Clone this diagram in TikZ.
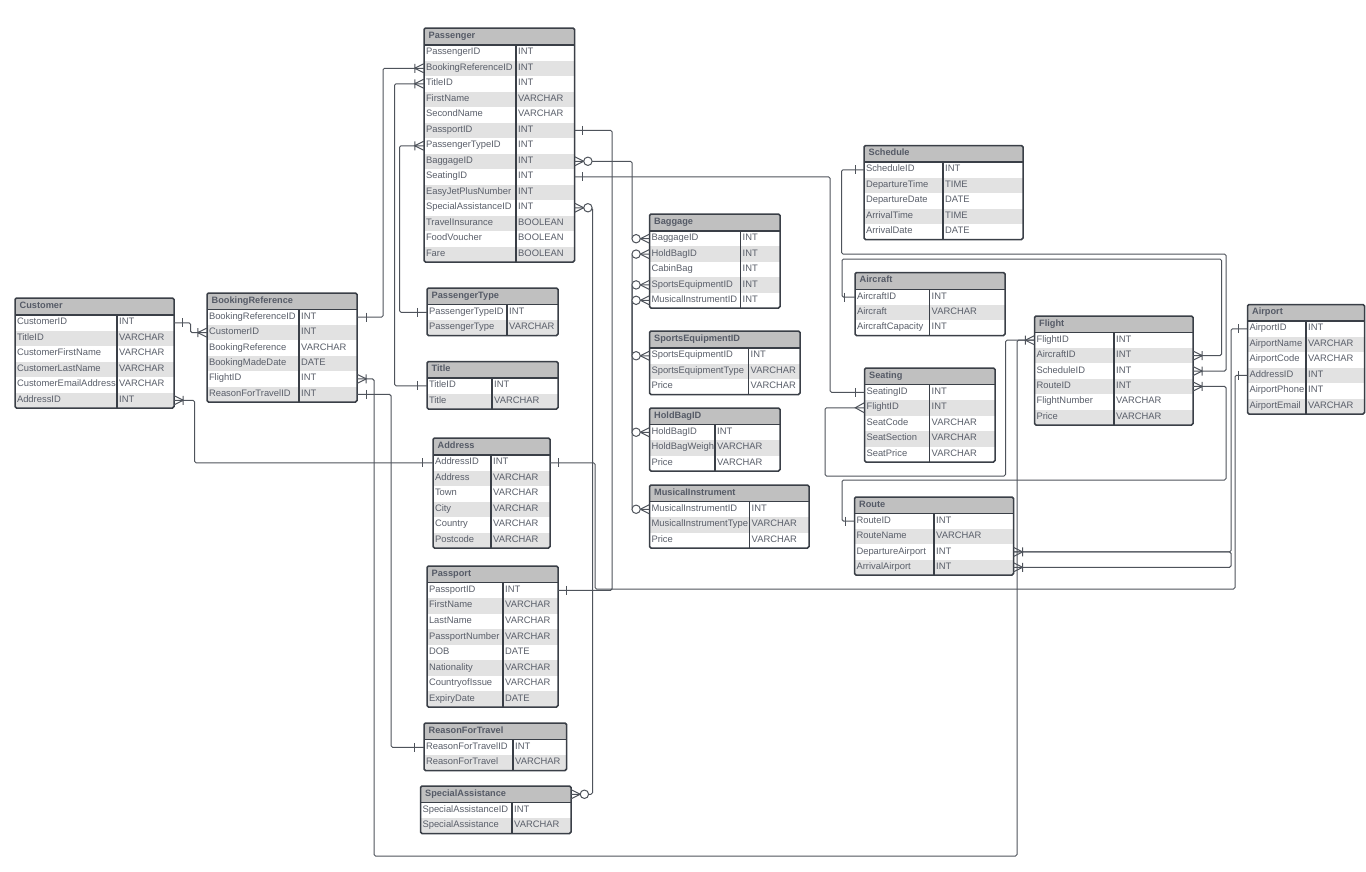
\documentclass[tikz,border=0pt]{standalone}
\usepackage{fontspec}
\setmainfont{Liberation Sans}
\definecolor{edgec}{HTML}{3A3F47}
\definecolor{linec}{HTML}{4E535B}
\definecolor{headc}{HTML}{C0C0C0}
\definecolor{altc}{HTML}{E2E2E2}
\definecolor{textc}{HTML}{5A5F6A}
\definecolor{titlec}{HTML}{555A66}
\tikzset{
  x=1pt,y=-1pt,
  frameline/.style={draw=edgec,line width=1.5pt},
  conn/.style={draw=linec,line width=1pt,rounded corners=1.5pt},
  markline/.style={draw=linec,line width=1pt},
  cellfield/.style={anchor=west,inner sep=0pt,text=textc,font=\fontsize{9.4}{10}\selectfont,text height=7pt,text depth=2pt},
  celltitle/.style={anchor=west,inner sep=0pt,text=titlec,font=\bfseries\fontsize{9.2}{10}\selectfont,text height=7pt,text depth=2pt},
}
% name, title, left, right, split, top, header bottom, bottom, rows
\newcommand{\ertable}[9]{%
  \foreach \xx [count=\cc] in {#9} {\xdef\nrows{\cc}}
  \pgfmathsetmacro{\rowh}{(#8-#7)/\nrows}
  \pgfmathsetmacro{\tmid}{(#3+#4)/2}
  \pgfmathsetmacro{\twid}{#4-#3}
  \pgfmathsetmacro{\hmid}{(#6+#7)/2}
  \pgfmathsetmacro{\hhei}{#7-#6}
  \node[fill=headc,inner sep=0pt,minimum width=\twid pt,minimum height=\hhei pt] (#1-head) at (\tmid,\hmid) {};
  \node[celltitle] (#1-title) at (#3+4.5,\hmid-0.7) {#2};
  \foreach \f/\t [count=\i] in {#9} {
    \pgfmathsetmacro{\ry}{#7+(\i-0.5)*\rowh}
    \pgfmathtruncatemacro{\isodd}{mod(\i,2)}
    \ifnum\isodd=1\def\rowfill{white}\else\def\rowfill{altc}\fi
    \node[fill=\rowfill,inner sep=0pt,minimum width=\twid pt,minimum height=\rowh pt] (#1-\i) at (\tmid,\ry) {};
    \node[cellfield] (#1-\i-f) at (#3+1.8,\ry-0.4) {\f};
    \node[cellfield] (#1-\i-t) at (#5+2,\ry-0.4) {\t};
  }
  \draw[frameline] (#3,#7) -- (#4,#7);
  \draw[frameline] (#5,#7) -- (#5,#8);
  \draw[frameline,rounded corners=1.5pt] (#3,#6) rectangle (#4,#8);
}
% markers: anchor, direction (1 = to the right, -1 = to the left)
\newcommand{\markone}[3][8]{\begin{scope}[shift={(#2)},xscale=#3]\draw[markline] (#1,-4.5) -- (#1,4.5);\end{scope}}
\newcommand{\markcrow}[2]{\begin{scope}[shift={(#1)},xscale=#2]\draw[markline] (0,-5) -- (9,0) -- (0,5);\end{scope}}
\newcommand{\markcrowbar}[2]{\begin{scope}[shift={(#1)},xscale=#2]\draw[markline] (0,-4.5) -- (9,0) -- (0,4.5) (9,-4.5) -- (9,4.5);\end{scope}}
\newcommand{\markzero}[2]{\begin{scope}[shift={(#1)},xscale=#2]\draw[markline] (0,-4.5) -- (9,0) -- (0,4.5);\draw[markline,fill=white] (13.2,0) circle (4.2);\end{scope}}
% connectors
\newcommand{\hvh}[3]{\coordinate (lane) at (#2,0);\draw[conn] (#1) -- (#1 -| lane) -- (#3 -| lane) -- (#3);}
\newcommand{\fivelane}[5]{\coordinate (lanea) at (#2,#3);\coordinate (laneb) at (#4,#3);\draw[conn] (#1) -- (#1 -| lanea) -- (lanea) -- (laneb) -- (#5 -| laneb) -- (#5);}
\begin{document}
\begin{tikzpicture}
\useasboundingbox (0,0) rectangle (1366,871);

\ertable{Customer}{Customer}{15}{174}{117}{298}{315}{408}{CustomerID/INT,TitleID/VARCHAR,CustomerFirstName/VARCHAR,CustomerLastName/VARCHAR,CustomerEmailAddress/VARCHAR,AddressID/INT}
\ertable{BookingReference}{BookingReference}{207}{357}{299}{293}{309.5}{402}{BookingReferenceID/INT,CustomerID/INT,BookingReference/VARCHAR,BookingMadeDate/DATE,FlightID/INT,ReasonForTravelID/INT}
\ertable{Passenger}{Passenger}{424}{574.5}{516}{28}{45}{262}{PassengerID/INT,BookingReferenceID/INT,TitleID/INT,FirstName/VARCHAR,SecondName/VARCHAR,PassportID/INT,PassengerTypeID/INT,BaggageID/INT,SeatingID/INT,EasyJetPlusNumber/INT,SpecialAssistanceID/INT,TravelInsurance/BOOLEAN,FoodVoucher/BOOLEAN,Fare/BOOLEAN}
\ertable{PassengerType}{PassengerType}{427}{558}{507}{288}{304.5}{335.5}{PassengerTypeID/INT,PassengerType/VARCHAR}
\ertable{Title}{Title}{427}{558}{492}{361.5}{378}{409}{TitleID/INT,Title/VARCHAR}
\ertable{Address}{Address}{433}{550}{491}{438}{455}{548}{AddressID/INT,Address/VARCHAR,Town/VARCHAR,City/VARCHAR,Country/VARCHAR,Postcode/VARCHAR}
\ertable{Passport}{Passport}{427}{558}{503}{566}{582.5}{707}{PassportID/INT,FirstName/VARCHAR,LastName/VARCHAR,PassportNumber/VARCHAR,DOB/DATE,Nationality/VARCHAR,CountryofIssue/VARCHAR,ExpiryDate/DATE}
\ertable{ReasonForTravel}{ReasonForTravel}{424}{566.5}{513}{723}{739.5}{770.5}{ReasonForTravelID/INT,ReasonForTravel/VARCHAR}
\ertable{SpecialAssistance}{SpecialAssistance}{420.5}{571}{512}{786}{802.5}{833.5}{SpecialAssistanceID/INT,SpecialAssistance/VARCHAR}
\ertable{Baggage}{Baggage}{649.5}{780}{740.5}{214}{231}{308}{BaggageID/INT,HoldBagID/INT,CabinBag/INT,SportsEquipmentID/INT,MusicalInstrumentID/INT}
\ertable{SportsEquipmentID}{SportsEquipmentID}{649.5}{800}{748.5}{331}{348}{394.5}{SportsEquipmentID/INT,SportsEquipmentType/VARCHAR,Price/VARCHAR}
\ertable{HoldBagID}{HoldBagID}{649.5}{780}{715}{408}{424.5}{471}{HoldBagID/INT,HoldBagWeigh/VARCHAR,Price/VARCHAR}
\ertable{MusicalInstrument}{MusicalInstrument}{649.5}{809}{749.5}{485}{501.5}{548}{MusicalInstrumentID/INT,MusicalInstrumentType/VARCHAR,Price/VARCHAR}
\ertable{Schedule}{Schedule}{864}{1023}{943}{145.5}{162}{239.5}{ScheduleID/INT,DepartureTime/TIME,DepartureDate/DATE,ArrivalTime/TIME,ArrivalDate/DATE}
\ertable{Aircraft}{Aircraft}{855}{1005}{929.5}{272.5}{289.5}{335.5}{AircraftID/INT,Aircraft/VARCHAR,AircraftCapacity/INT}
\ertable{Seating}{Seating}{864.5}{995}{929.5}{368}{384.5}{462}{SeatingID/INT,FlightID/INT,SeatCode/VARCHAR,SeatSection/VARCHAR,SeatPrice/VARCHAR}
\ertable{Route}{Route}{854.5}{1013.5}{934}{497}{513.5}{575}{RouteID/INT,RouteName/VARCHAR,DepartureAirport/INT,ArrivalAirport/INT}
\ertable{Flight}{Flight}{1034.5}{1193}{1114}{316}{332.5}{425}{FlightID/INT,AircraftID/INT,ScheduleID/INT,RouteID/INT,FlightNumber/VARCHAR,Price/VARCHAR}
\ertable{Airport}{Airport}{1247.5}{1364.5}{1306}{304.5}{321}{414}{AirportID/INT,AirportName/VARCHAR,AirportCode/VARCHAR,AddressID/INT,AirportPhone/INT,AirportEmail/VARCHAR}

% connectors
\hvh{Customer-1.east}{190.5}{BookingReference-2.west}
\markone{Customer-1.east}{1}
\markcrowbar{BookingReference-2.west}{-1}

\hvh{Customer-6.east}{194.5}{Address-1.west}
\markcrowbar{Customer-6.east}{1}
\markone[10]{Address-1.west}{-1}

\hvh{BookingReference-1.east}{383}{Passenger-2.west}
\markone[9]{BookingReference-1.east}{1}
\markcrowbar{Passenger-2.west}{-1}

\fivelane{BookingReference-5.east}{374}{856}{1017}{Flight-1.west}
\markcrowbar{BookingReference-5.east}{1}
\markcrowbar{Flight-1.west}{-1}

\hvh{BookingReference-6.east}{391}{ReasonForTravel-1.west}
\markone[9]{BookingReference-6.east}{1}
\markone[9]{ReasonForTravel-1.west}{-1}

\hvh{Title-1.west}{394.5}{Passenger-3.west}
\markone[9]{Title-1.west}{-1}
\markcrowbar{Passenger-3.west}{-1}

\hvh{PassengerType-1.west}{399.5}{Passenger-7.west}
\markone[9]{PassengerType-1.west}{-1}
\markcrowbar{Passenger-7.west}{-1}

\hvh{Passenger-6.east}{612}{Passport-1.east}
\markone[8]{Passenger-6.east}{1}
\markone[8]{Passport-1.east}{1}

\hvh{Passenger-8.east}{632}{Baggage-1.west}
\markzero{Passenger-8.east}{1}
\markzero{Baggage-1.west}{-1}

\hvh{Passenger-11.east}{592.5}{SpecialAssistance-head.east}
\markzero{Passenger-11.east}{1}
\markzero{SpecialAssistance-head.east}{1}

\hvh{Passenger-9.east}{830}{Seating-1.west}
\markone[8]{Passenger-9.east}{1}
\markone[9]{Seating-1.west}{-1}

\hvh{Baggage-2.west}{632}{HoldBagID-1.west}
\hvh{Baggage-4.west}{632}{SportsEquipmentID-1.west}
\hvh{Baggage-5.west}{632}{MusicalInstrument-1.west}
\markzero{Baggage-2.west}{-1}
\markzero{Baggage-4.west}{-1}
\markzero{Baggage-5.west}{-1}
\markzero{HoldBagID-1.west}{-1}
\markzero{SportsEquipmentID-1.west}{-1}
\markzero{MusicalInstrument-1.west}{-1}

\fivelane{Address-1.east}{595}{589}{1235}{Airport-4.west}
\markone[8]{Address-1.east}{1}
\markone[9]{Airport-4.west}{-1}

\fivelane{Schedule-1.west}{841.5}{254}{1226}{Flight-3.east}
\markone[8]{Schedule-1.west}{-1}
\markcrowbar{Flight-3.east}{1}

\fivelane{Aircraft-1.west}{842}{259}{1221.5}{Flight-2.east}
\markone[10]{Aircraft-1.west}{-1}
\markcrowbar{Flight-2.east}{1}

\fivelane{Route-1.west}{842}{480}{1226}{Flight-4.east}
\markone[9]{Route-1.west}{-1}
\markcrowbar{Flight-4.east}{1}

\fivelane{Seating-2.west}{825}{476}{1005.5}{Flight-1.west}
\markcrow{Seating-2.west}{-1}

\hvh{Route-3.east}{1231}{Airport-1.west}
\hvh{Route-4.east}{1231}{Route-3.east}
\markcrowbar{Route-3.east}{1}
\markcrowbar{Route-4.east}{1}
\markone[9]{Airport-1.west}{-1}
\end{tikzpicture}
\end{document}
